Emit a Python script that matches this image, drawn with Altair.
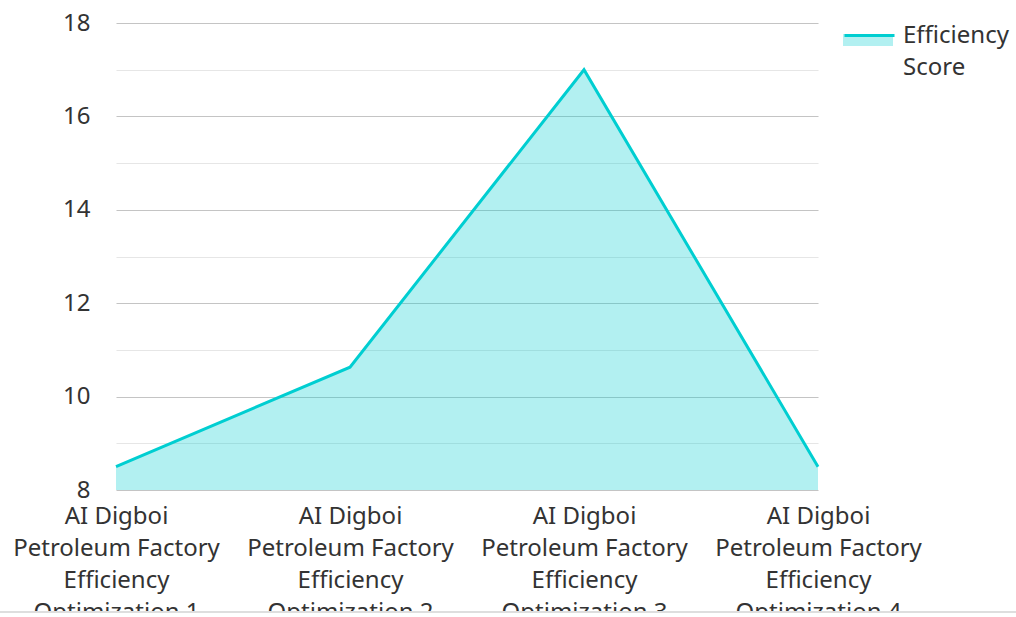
import altair as alt
import pandas as pd

categories = [
    "AI Digboi Petroleum Factory Efficiency Optimization 1",
    "AI Digboi Petroleum Factory Efficiency Optimization 2",
    "AI Digboi Petroleum Factory Efficiency Optimization 3",
    "AI Digboi Petroleum Factory Efficiency Optimization 4",
]
scores = [8.5, 10.63, 17.0, 8.5]
series_name = "Efficiency Score"
y_ticks = list(range(8, 19))

df = pd.DataFrame({
    "category": categories,
    "score": scores,
    "series": [series_name] * len(categories),
    "series_fill": [series_name] * len(categories),
})

TEAL = "#00CED1"
FONT = "Noto Sans"
TXT = "#333333"
FS = 24

wrap_expr = (
    "[split(datum.label,' ')[0]+' '+split(datum.label,' ')[1],"
    " split(datum.label,' ')[2]+' '+split(datum.label,' ')[3],"
    " split(datum.label,' ')[4],"
    " split(datum.label,' ')[5]+' '+split(datum.label,' ')[6]]"
)

x_enc = alt.X(
    "category:N",
    sort=categories,
    scale=alt.Scale(type="point", padding=0),
    axis=alt.Axis(
        title=None, labelAngle=0, labelExpr=wrap_expr, labelFont=FONT,
        labelFontSize=FS, labelLineHeight=32, labelColor=TXT,
        labelBaseline="top", labelPadding=14, ticks=False, domain=False,
        grid=False, labelOverlap=False, labelBound=False, labelFlush=False,
        labelLimit=400,
    ),
)
y_scale = alt.Scale(domain=[8, 18], nice=False, zero=False)

area = alt.Chart(df).mark_area(opacity=0.3).encode(
    x=x_enc,
    y=alt.Y(
        "score:Q", scale=y_scale,
        axis=alt.Axis(
            title=None, values=y_ticks,
            labelExpr="datum.value % 2 == 0 ? datum.label : ''",
            labelFont=FONT, labelFontSize=FS, labelColor=TXT,
            labelPadding=26, ticks=False, domain=False,
            gridColor={"condition": {"test": "datum.value % 2 == 0", "value": "#c4c4c4"},
                       "value": "#e6e6e6"},
            gridWidth=1.2,
        ),
    ),
    y2=alt.datum(8),
    fill=alt.Fill(
        "series_fill:N", scale=alt.Scale(range=[TEAL]),
        legend=alt.Legend(
            orient="none", legendX=727, legendY=-14, title=None,
            symbolType="M-1,0H1V0.48H-1Z", symbolSize=2500, symbolOpacity=0.3,
            symbolStrokeWidth=0, labelExpr="''", padding=0,
        ),
    ),
)

line = alt.Chart(df).mark_line(strokeWidth=3, color=TEAL).encode(
    x=x_enc,
    y=alt.Y("score:Q", scale=y_scale),
    stroke=alt.Stroke(
        "series:N", scale=alt.Scale(range=[TEAL]),
        legend=alt.Legend(
            orient="none", legendX=727, legendY=-14, title=None,
            symbolType="stroke", symbolSize=2500, symbolStrokeWidth=3,
            labelExpr="split(datum.label,' ')", labelFont=FONT,
            labelFontSize=FS, labelColor=TXT, labelLimit=300, padding=0,
            labelOffset=7,
        ),
    ),
)

one = pd.DataFrame({"a": [0]})
cover = alt.Chart(one).mark_rect(color="white").encode(
    x=alt.value(-116), x2=alt.value(900), y=alt.value(588), y2=alt.value(600)
)
bottom_rule = alt.Chart(one).mark_rule(color="#d3d3d3", strokeWidth=1.5).encode(
    x=alt.value(-116), x2=alt.value(900), y=alt.value(589)
)

chart = alt.layer(area, line, cover, bottom_rule).resolve_scale(
    fill="independent", stroke="independent"
).properties(
    width=702, height=467,
    autosize=alt.AutoSizeParams(type="none"),
    padding={"left": 116, "top": 23, "right": 198, "bottom": 127},
).configure(
    background="white",
    style={"guide-label": {"lineHeight": 32}},
    view=alt.ViewConfig(strokeWidth=0, stroke="transparent"),
)

chart.save("out.html", embed_options={"renderer": "svg", "actions": False})
